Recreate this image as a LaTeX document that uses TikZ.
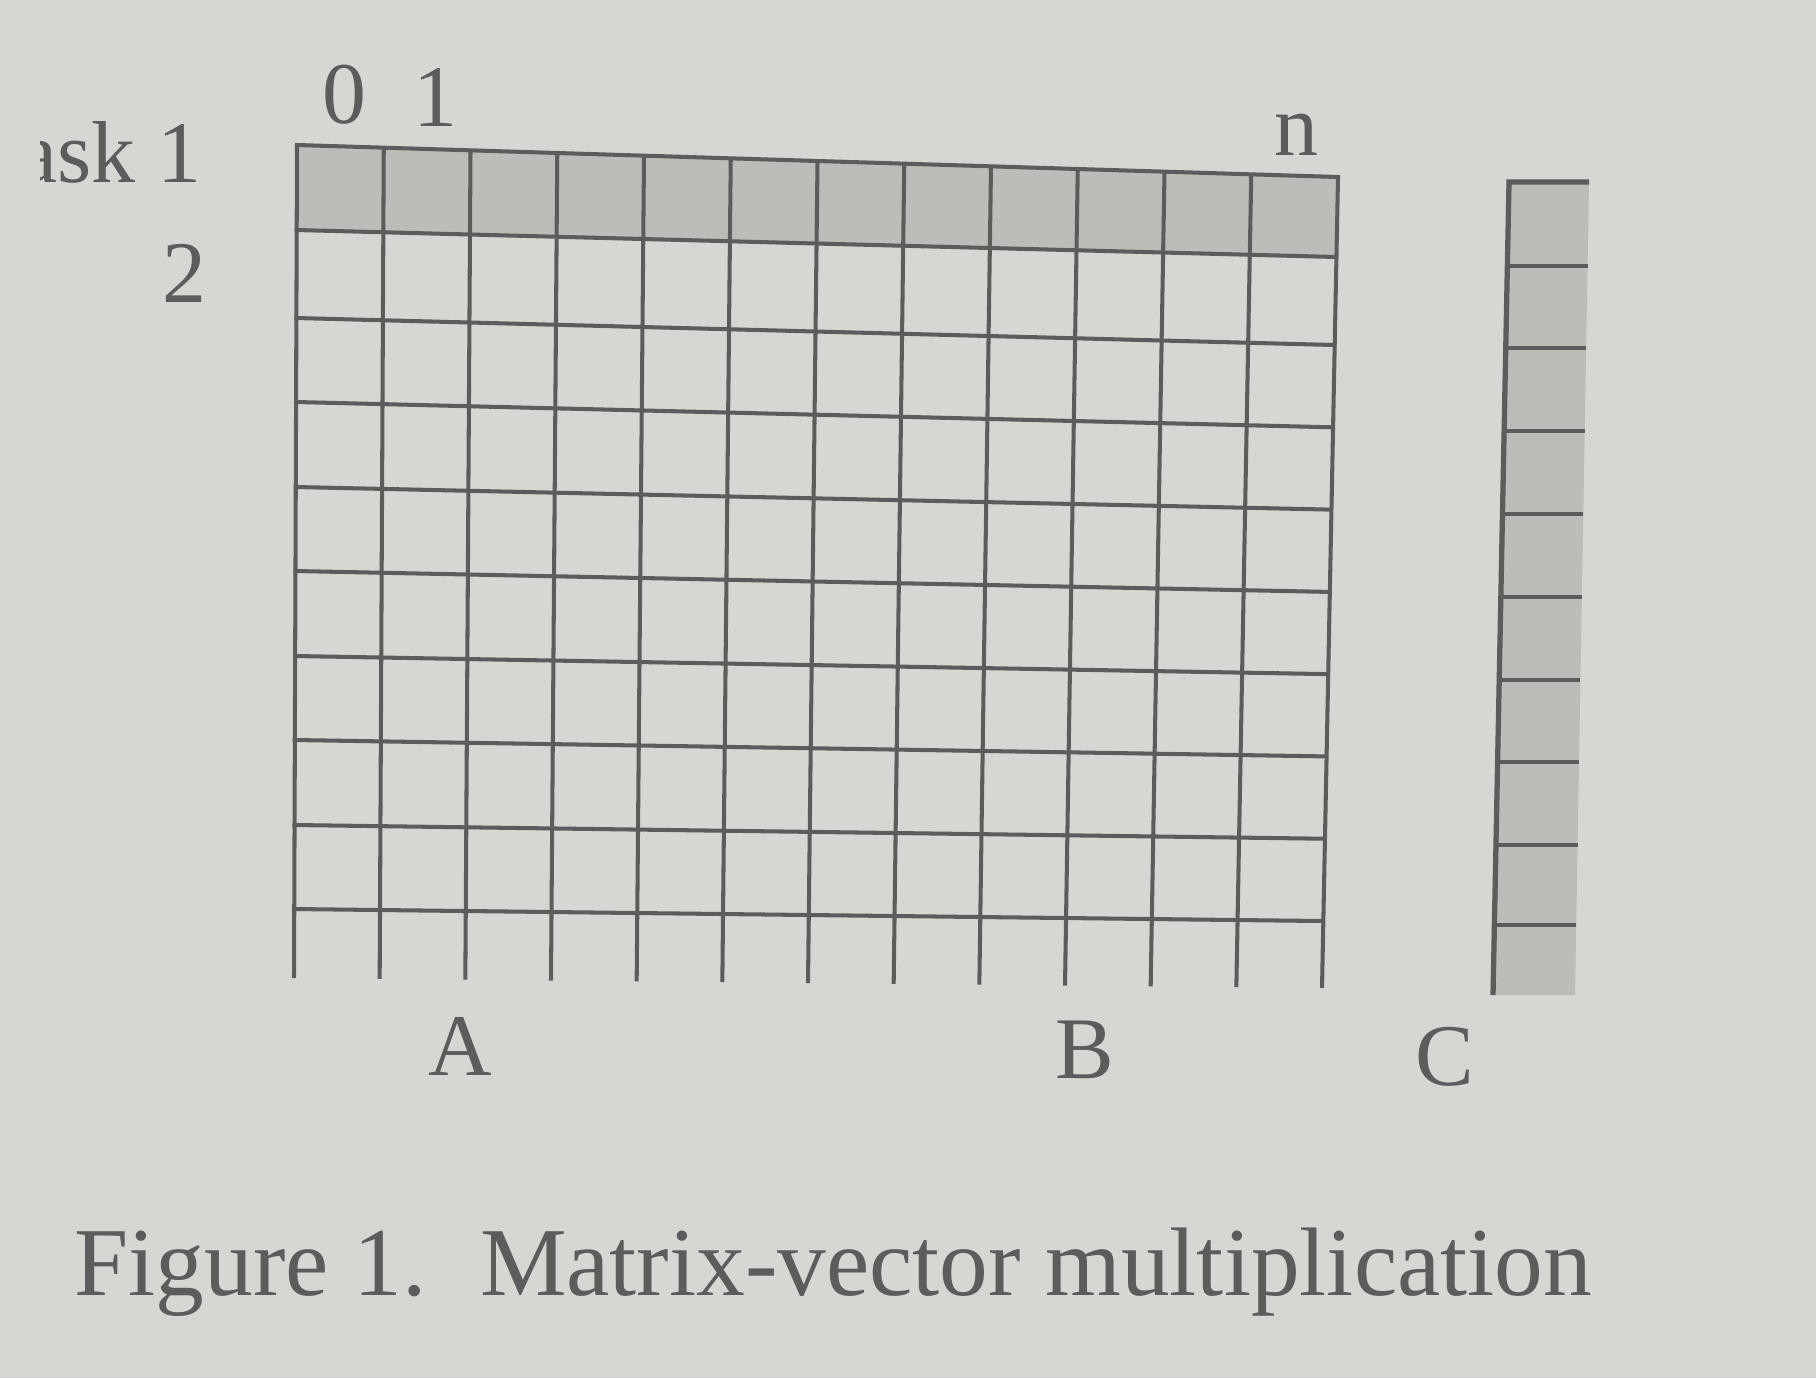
\documentclass[tikz,border=0pt]{standalone}
\usepackage{fontspec}
\setmainfont{Liberation Serif}
\definecolor{bg}{RGB}{214,214,210}
\definecolor{ink}{RGB}{92,92,92}
\definecolor{cellgray}{RGB}{188,188,184}
\begin{document}
\begin{tikzpicture}[x=0.01cm,y=-0.01cm,
  gridline/.style={draw=ink,line width=1.15pt},
  lbl/.style={text=ink,font=\fontsize{25}{30}\selectfont,inner sep=0pt},
  captext/.style={text=ink,font=\fontsize{27.7}{33}\selectfont,inner sep=0pt}]
\fill[bg] (0,0) rectangle (1816,1378);
\useasboundingbox (0,0) rectangle (1816,1378);
% shaded first row of matrix
\fill[cellgray] (297,145) -- (1338,177) -- (1336.3,257) -- (295.7,230) -- cycle;
% horizontal grid lines
\foreach \a/\b in {145/177,230/257,318/345,402/427.3,487/509.6,571/591.9,656/674.1,740/756.4,825/838.7,909/921}{
  \pgfmathsetmacro\xa{297-3*(\a-145)/764}
  \pgfmathsetmacro\xb{1338-16*(\b-177)/744}
  \draw[gridline,line cap=rect] (\xa,\a) -- (\xb,\b);
}
% vertical grid lines
\foreach \j in {0,...,12}{
  \pgfmathsetmacro\xt{297+1041*\j/12}
  \pgfmathsetmacro\yt{145+32*\j/12}
  \pgfmathsetmacro\xbt{294+1028*\j/12}
  \pgfmathsetmacro\ybt{978+10*\j/12}
  \draw[gridline] (\xt,\yt) -- (\xbt,\ybt);
}
% vector C
\fill[cellgray] (1509,182) -- (1589,182) -- (1575,995) -- (1493,995) -- cycle;
\draw[draw=ink,line width=1.5pt,line join=miter] (1493,995) -- (1509,182) -- (1589,182);
\foreach \y in {266,348,431,514,597,680,762,845,925}{
  \pgfmathsetmacro\xl{1509-16*(\y-182)/813}
  \pgfmathsetmacro\xr{1589-14*(\y-182)/813}
  \draw[gridline,line width=1.3pt] (\xl,\y) -- (\xr,\y);
}
% labels
\node[lbl,anchor=base] (c0) at (344,123) {0};
\node[lbl,anchor=base] (c1) at (435,126) {1};
\node[lbl,anchor=base] (cn) at (1296,155) {n};
\node[lbl,anchor=base] (r2) at (184,302) {2};
\begin{scope}
  \clip (40,0) rectangle (400,400);
  \node[lbl,anchor=base east] (r1) at (202,182) {ask 1};
\end{scope}
\node[lbl,anchor=base] (la) at (460,1075) {A};
\node[lbl,anchor=base] (lb) at (1085,1078) {B};
\node[lbl,anchor=base] (lc) at (1445,1085) {C};
\node[captext,anchor=base west] (caption) at (74,1295) {Figure 1.\hspace{0.55em}Matrix-vector multiplication};
\end{tikzpicture}
\end{document}
